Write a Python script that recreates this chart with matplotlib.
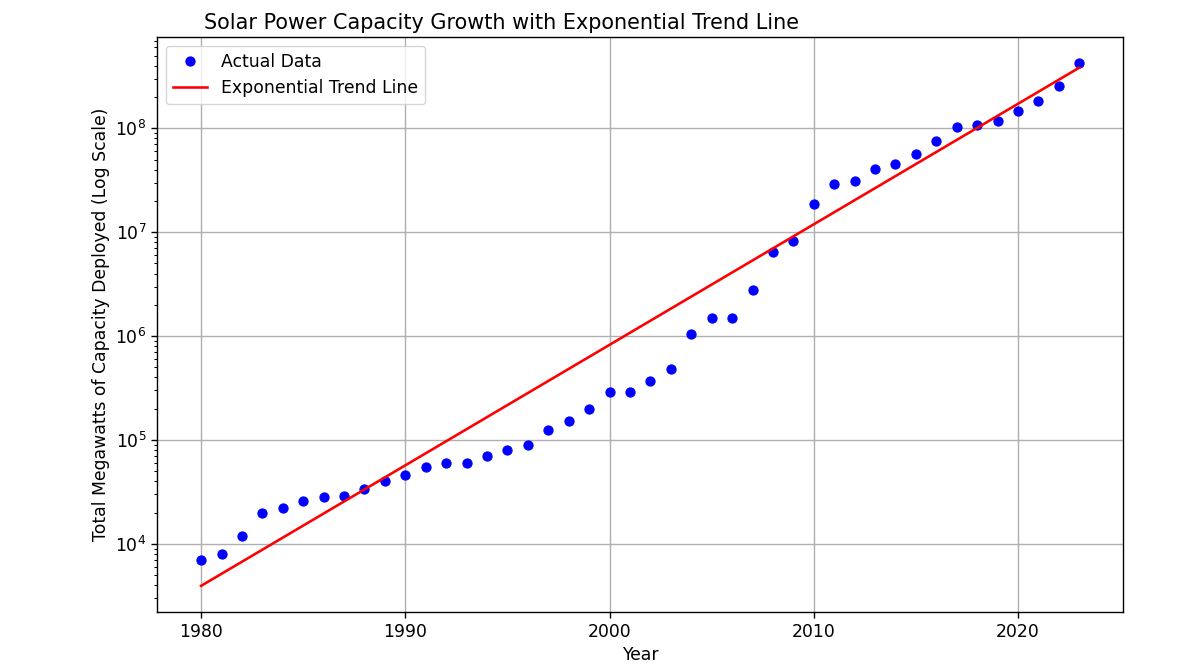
import numpy as np
import matplotlib
matplotlib.use("Agg")
import matplotlib.pyplot as plt

years = list(range(1980, 2024))
capacity = [7000, 8000, 12000, 20000, 22000, 26000, 28000, 29000, 34000, 40000,
            46000, 55000, 60000, 60000, 70000, 80000, 89000, 125000, 152000, 200000,
            290000, 290000, 370000, 484000, 1040000, 1480000, 1480000, 2800000, 6500000, 8250000,
            18500000, 28800000, 30900000, 41000000, 45000000, 56000000, 75000000, 102000000, 108000000, 118000000,
            148000000, 185000000, 256000000, 424000000]

# exponential trend parameters
trend_start_value = 3940.0      # trend value in first year
trend_end_value = 3.84e8        # trend value in last year

x = np.array(years, dtype=float)
y = np.array(capacity, dtype=float)
t = x - x[0]
rate = np.log(trend_end_value / trend_start_value) / t[-1]
trend = trend_start_value * np.exp(rate * t)

s = 1.245
plt.rcParams['font.size'] = 10 * s
fig = plt.figure(figsize=(12, 6.67), dpi=100)
ax = fig.add_axes([0.131, 0.0825, 0.805, 0.862])
ax.plot(x, y, 'o', color='blue', markersize=6.6, markeredgewidth=0.8, label='Actual Data')
ax.plot(x, trend, '-', color='red', linewidth=1.5 * s, label='Exponential Trend Line')
ax.set_yscale('log')
ax.set_title('Solar Power Capacity Growth with Exponential Trend Line', fontsize=12 * s, x=0.356)
ax.set_xlabel('Year')
ax.set_ylabel('Total Megawatts of Capacity Deployed (Log Scale)')
ax.grid(True, linewidth=0.8 * s)
ax.legend(loc='upper left')
for sp in ax.spines.values():
    sp.set_linewidth(0.8 * s)
ax.tick_params(which='major', length=3.5 * s, width=0.8 * s)
ax.tick_params(which='minor', length=2 * s, width=0.6 * s)
fig.savefig('out.png', dpi=100)
